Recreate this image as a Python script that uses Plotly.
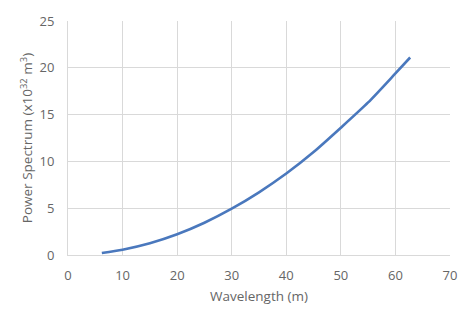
import plotly.graph_objects as go

# Power spectrum vs wavelength
wavelength = [6.2, 10, 15, 20, 25, 30, 35, 40, 45, 50, 55, 60, 62.7]
power = [0.22, 0.57, 1.26, 2.22, 3.45, 4.95, 6.7, 8.7, 11.0, 13.6, 16.3, 19.4, 21.1]

x_ticks = [0, 10, 20, 30, 40, 50, 60, 70]
y_ticks = [0, 5, 10, 15, 20, 25]

grid = "#d9d9d9"
text_col = "#666666"
font_family = "Open Sans, Liberation Sans, sans-serif"

fig = go.Figure(
    go.Scatter(
        x=wavelength,
        y=power,
        mode="lines",
        line=dict(color="#4a78bd", width=2.6, shape="spline", smoothing=0.7),
        showlegend=False,
        hoverinfo="skip",
    )
)

fig.update_layout(
    width=474,
    height=323,
    margin=dict(l=68, r=24, t=16, b=68),
    paper_bgcolor="white",
    plot_bgcolor="white",
    font=dict(family=font_family, size=12, color=text_col),
)

fig.update_xaxes(
    range=[0, 70],
    tickvals=x_ticks,
    showgrid=True,
    gridcolor=grid,
    gridwidth=1,
    showline=True,
    linecolor=grid,
    linewidth=1,
    zeroline=False,
    ticks="",
    ticklabelstandoff=8,
    tickfont=dict(size=13, color=text_col),
    title=dict(text="Wavelength (m)", font=dict(size=13.5, color=text_col), standoff=8),
)

fig.update_yaxes(
    range=[0, 25],
    tickvals=y_ticks,
    showgrid=True,
    gridcolor=grid,
    gridwidth=1,
    showline=True,
    linecolor=grid,
    linewidth=1,
    zeroline=False,
    ticks="",
    ticklabelstandoff=10,
    tickfont=dict(size=13, color=text_col),
    title=dict(
        text="Power Spectrum (x10<sup>32</sup> m<sup>3</sup>)",
        font=dict(size=13.5, color=text_col),
        standoff=3,
    ),
)

fig.write_html("out.html")
